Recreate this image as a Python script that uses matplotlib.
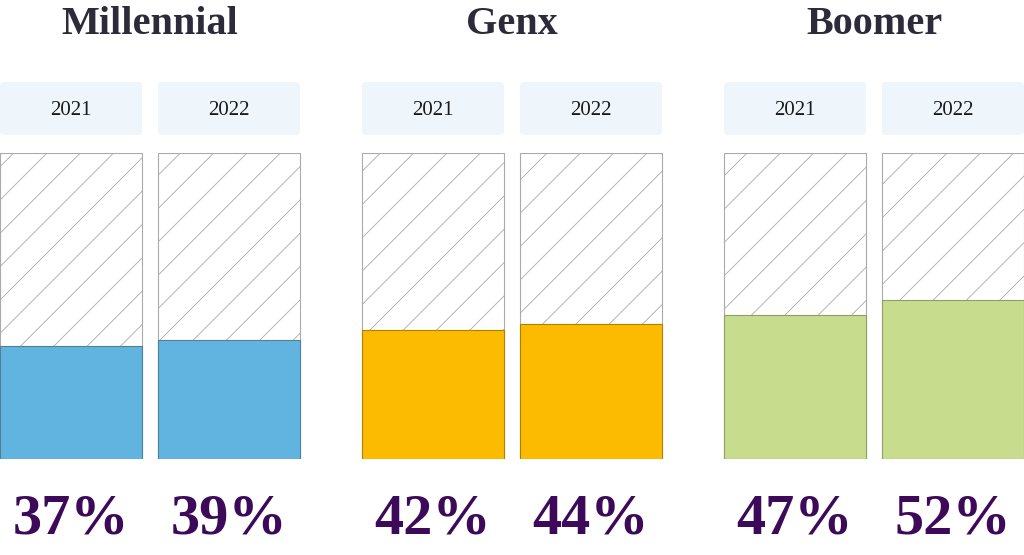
import matplotlib
matplotlib.use("Agg")
import matplotlib.pyplot as plt
from matplotlib.patches import FancyBboxPatch

# data
groups = ["Millennial", "Genx", "Boomer"]
years = ["2021", "2022"]
values = [[37, 39], [42, 44], [47, 52]]
colors = ["#62B4E0", "#FDBB00", "#C8DC8E"]
edges = ["#4F7F99", "#A88400", "#8F9E66"]

plt.rcParams['hatch.linewidth'] = 0.3
plt.rcParams['hatch.color'] = '#BDBDBD'

W, H = 1024, 555
fig = plt.figure(figsize=(W / 200, H / 200), dpi=200)

# bar area: pixel rows 153..459
ax = fig.add_axes([0, (H - 459) / H, 1, 306 / H])
ax.set_xlim(0, W)
ax.set_ylim(0, 100)
ax.axis('off')

# overlay for labels, pixel coords (y down)
ov = fig.add_axes([0, 0, 1, 1], zorder=-1)
ov.set_xlim(0, W)
ov.set_ylim(H, 0)
ov.axis('off')

bw = 142
for g, name in enumerate(groups):
    gx = g * 362
    ov.text(gx + 150, 34, name, ha='center', va='baseline', fontsize=14.5,
            fontweight='bold', family='Liberation Serif', color='#2D2A3A')
    for j, yr in enumerate(years):
        left = gx + j * 158
        cx = left + bw / 2
        ax.bar(cx, 100, bw, facecolor='white', edgecolor='#AAAAAA',
               linewidth=0.4, hatch='//')
        ax.bar(cx, values[g][j], bw, color=colors[g], edgecolor=edges[g],
               linewidth=0.4)
        ov.add_patch(FancyBboxPatch((left, 82), bw, 53,
                                    boxstyle="round,pad=0,rounding_size=4",
                                    facecolor='#EEF6FC', edgecolor='none'))
        ov.text(cx, 115, yr, ha='center', va='baseline', fontsize=7.5,
                family='Liberation Serif', color='#1A1A1A')
        ov.text(cx, 533, f"{values[g][j]}%", ha='center', va='baseline',
                fontsize=21, fontweight='bold', family='Liberation Serif',
                color='#3D0A5A')

fig.savefig("out.png", dpi=200)
